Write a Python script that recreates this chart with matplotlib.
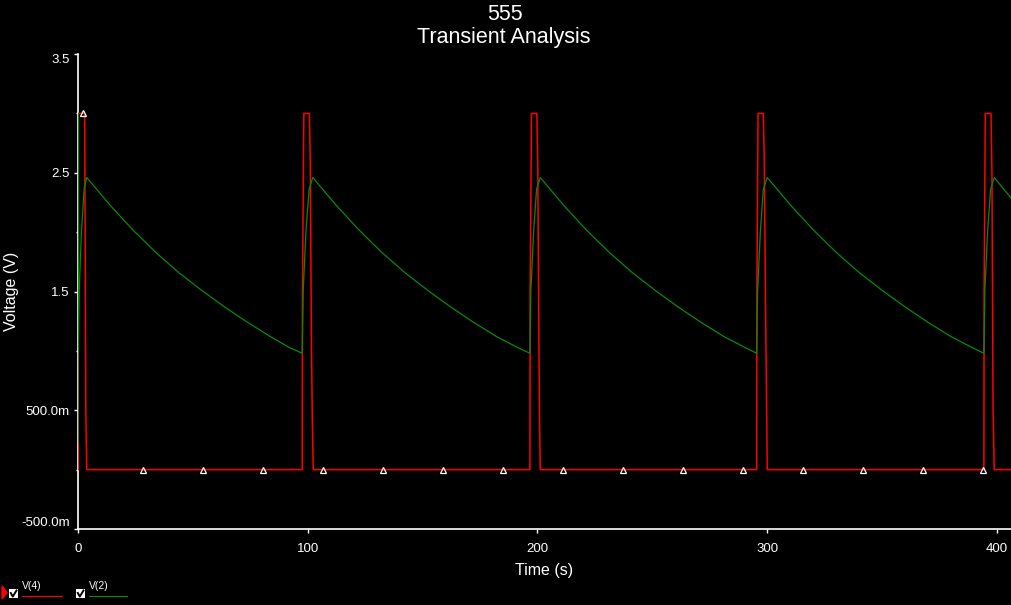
import numpy as np
import matplotlib.pyplot as plt
from matplotlib.patches import Rectangle, Polygon
from matplotlib.lines import Line2D

plt.rcParams['font.family'] = ['Liberation Sans', 'DejaVu Sans']

# ------------------------------------------------------------------
# Data (time in s, voltage in V)
# ------------------------------------------------------------------
# V(4): output pulses
red_t = [0.0, 0.05, 2.9, 3.2, 3.4, 3.8,
         97.6, 97.7, 98.3, 100.7, 101.1, 101.6, 102.0, 102.4,
         196.7, 196.8, 197.4, 199.7, 200.1, 200.6, 200.9, 201.2,
         295.4, 295.5, 296.0, 298.3, 298.7, 299.4, 299.8, 300.0,
         394.3, 394.4, 394.9, 397.4, 397.8, 398.3, 398.8, 406.0]
red_v = [0.0, 3.0, 3.0, 1.5, 0.5, 0.0,
         0.0, 1.5, 3.0, 3.0, 2.6, 1.1, 0.4, 0.0,
         0.0, 1.5, 3.0, 3.0, 2.6, 1.1, 0.4, 0.0,
         0.0, 1.5, 3.0, 3.0, 2.6, 1.1, 0.4, 0.0,
         0.0, 1.5, 3.0, 3.0, 2.5, 0.5, 0.0, 0.0]

# V(2): capacitor voltage
green_t = [0.0, 0.02, 0.1, 0.6, 1.5, 2.7, 3.8,
           13.8, 23.8, 33.8, 43.8, 53.8, 63.8, 73.8, 83.8, 91.8, 97.6,
           98.0, 99.2, 100.6, 102.2,
           112.2, 122.2, 132.2, 142.2, 152.2, 162.2, 172.2, 182.2, 192.2, 196.7,
           197.1, 198.3, 199.6, 201.2,
           211.2, 221.2, 231.2, 241.2, 251.2, 261.2, 271.2, 281.2, 291.2, 295.4,
           295.8, 297.0, 298.3, 300.0,
           310.0, 320.0, 330.0, 340.0, 350.0, 360.0, 370.0, 380.0, 390.0, 394.3,
           394.7, 395.9, 397.2, 398.8, 406.0]
green_v = [0.23, 3.0, 1.0, 1.55, 2.0, 2.37, 2.46,
           2.23, 2.02, 1.83, 1.66, 1.51, 1.37, 1.24, 1.12, 1.03, 0.98,
           1.5, 2.0, 2.36, 2.46,
           2.23, 2.02, 1.83, 1.66, 1.51, 1.37, 1.24, 1.12, 1.02, 0.98,
           1.5, 2.0, 2.36, 2.46,
           2.23, 2.02, 1.83, 1.66, 1.51, 1.37, 1.24, 1.12, 1.02, 0.98,
           1.5, 2.0, 2.36, 2.46,
           2.23, 2.02, 1.83, 1.66, 1.51, 1.37, 1.24, 1.12, 1.02, 0.98,
           1.5, 2.0, 2.36, 2.46, 2.29]

# triangle data markers on V(4)
marker_t = [2.3, 28.4, 54.5, 80.7, 106.8, 132.9, 159.0, 185.1, 211.2,
            237.4, 263.5, 289.6, 315.7, 341.8, 367.9, 394.0]
marker_v = [3.0, 0, 0, 0, 0, 0, 0, 0, 0, 0, 0, 0, 0, 0, 0, 0]

y_ticks = [-0.5, 0.5, 1.5, 2.5, 3.5]
y_ticklabels = ['-500.0m', '500.0m', '1.5', '2.5', '3.5']
y_minor = [0.0, 1.0, 2.0, 3.0]
x_ticks = [0, 100, 200, 300, 400]

# ------------------------------------------------------------------
W, H = 1011, 605
fig = plt.figure(figsize=(W / 100, H / 100), dpi=100, facecolor='black')
ax = fig.add_axes([78 / W, 1 - 529 / H, (W - 78) / W, (529 - 54) / H])
ax.set_facecolor('black')

ax.plot(red_t, red_v, color='#ff0000', lw=1.1, zorder=3)
ax.plot(green_t, green_v, color='#0a8a0a', lw=0.9, zorder=4)
ax.plot(marker_t, marker_v, ls='none', marker='^', ms=5, mfc='none',
        mec='white', mew=0.9, zorder=5)

ax.set_xlim(0, 406.1)
ax.set_ylim(-0.5, 3.5)

for s in ['top', 'right']:
    ax.spines[s].set_visible(False)
for s in ['left', 'bottom']:
    ax.spines[s].set_color('white')
    ax.spines[s].set_linewidth(1.2)

ax.set_xticks(x_ticks)
ax.set_xticklabels([str(v) for v in x_ticks])
ax.set_yticks(y_ticks)
ax.set_yticklabels(y_ticklabels)
ax.set_yticks(y_minor, minor=True)
ax.tick_params(axis='both', which='major', colors='white', length=3, width=1,
               labelsize=9.5)
ax.tick_params(axis='x', which='major', pad=7)
ax.tick_params(axis='y', which='major', pad=3)
ax.tick_params(axis='y', which='minor', colors='white', length=1.5, width=1)

# keep end labels inside the axis span, as in the reference
ylabels = ax.get_yticklabels()
ylabels[0].set_va('bottom')
ylabels[-1].set_va('top')

ax.set_xlabel('Time (s)', color='white', fontsize=11.5, labelpad=6)
ax.set_ylabel('Voltage (V)', color='white', fontsize=11.5, va='center')
ax.yaxis.set_label_coords(-66 / (W - 78), 0.5)

fig.text(505 / W, 1 - 14 / H, '555', color='white', fontsize=15.5,
         ha='center', va='center')
fig.text(504 / W, 1 - 38 / H, 'Transient Analysis', color='white',
         fontsize=15.5, ha='center', va='center')

# ------------------------------------------------------------------
# Legend strip at the bottom
# ------------------------------------------------------------------
def px(x, y):
    return x / W, 1 - y / H

fig.add_artist(Polygon([px(2, 586), px(7, 592.5), px(2, 599)], closed=True,
                       color='#ff0000', transform=fig.transFigure))

for bx, name, col, lx0, lx1 in [(9, 'V(4)', '#ff0000', 22, 62),
                                (76, 'V(2)', '#0a8a0a', 89, 127)]:
    x0, y0 = px(bx, 598)
    fig.add_artist(Rectangle((x0, y0), 9 / W, 9 / H, facecolor='white',
                             edgecolor='none', transform=fig.transFigure))
    cx, cy = zip(px(bx + 1.8, 593), px(bx + 3.8, 596.5), px(bx + 7.5, 590.5))
    fig.add_artist(Line2D(cx, cy, color='black', lw=1.4,
                          transform=fig.transFigure))
    tx, ty = px(bx + 13, 586)
    fig.text(tx, ty, name, color='white', fontsize=7.5, ha='left', va='center')
    lx, ly = zip(px(lx0, 595.5), px(lx1, 595.5))
    fig.add_artist(Line2D(lx, ly, color=col, lw=0.8,
                          transform=fig.transFigure))

fig.savefig('out.png', dpi=100, facecolor='black')
